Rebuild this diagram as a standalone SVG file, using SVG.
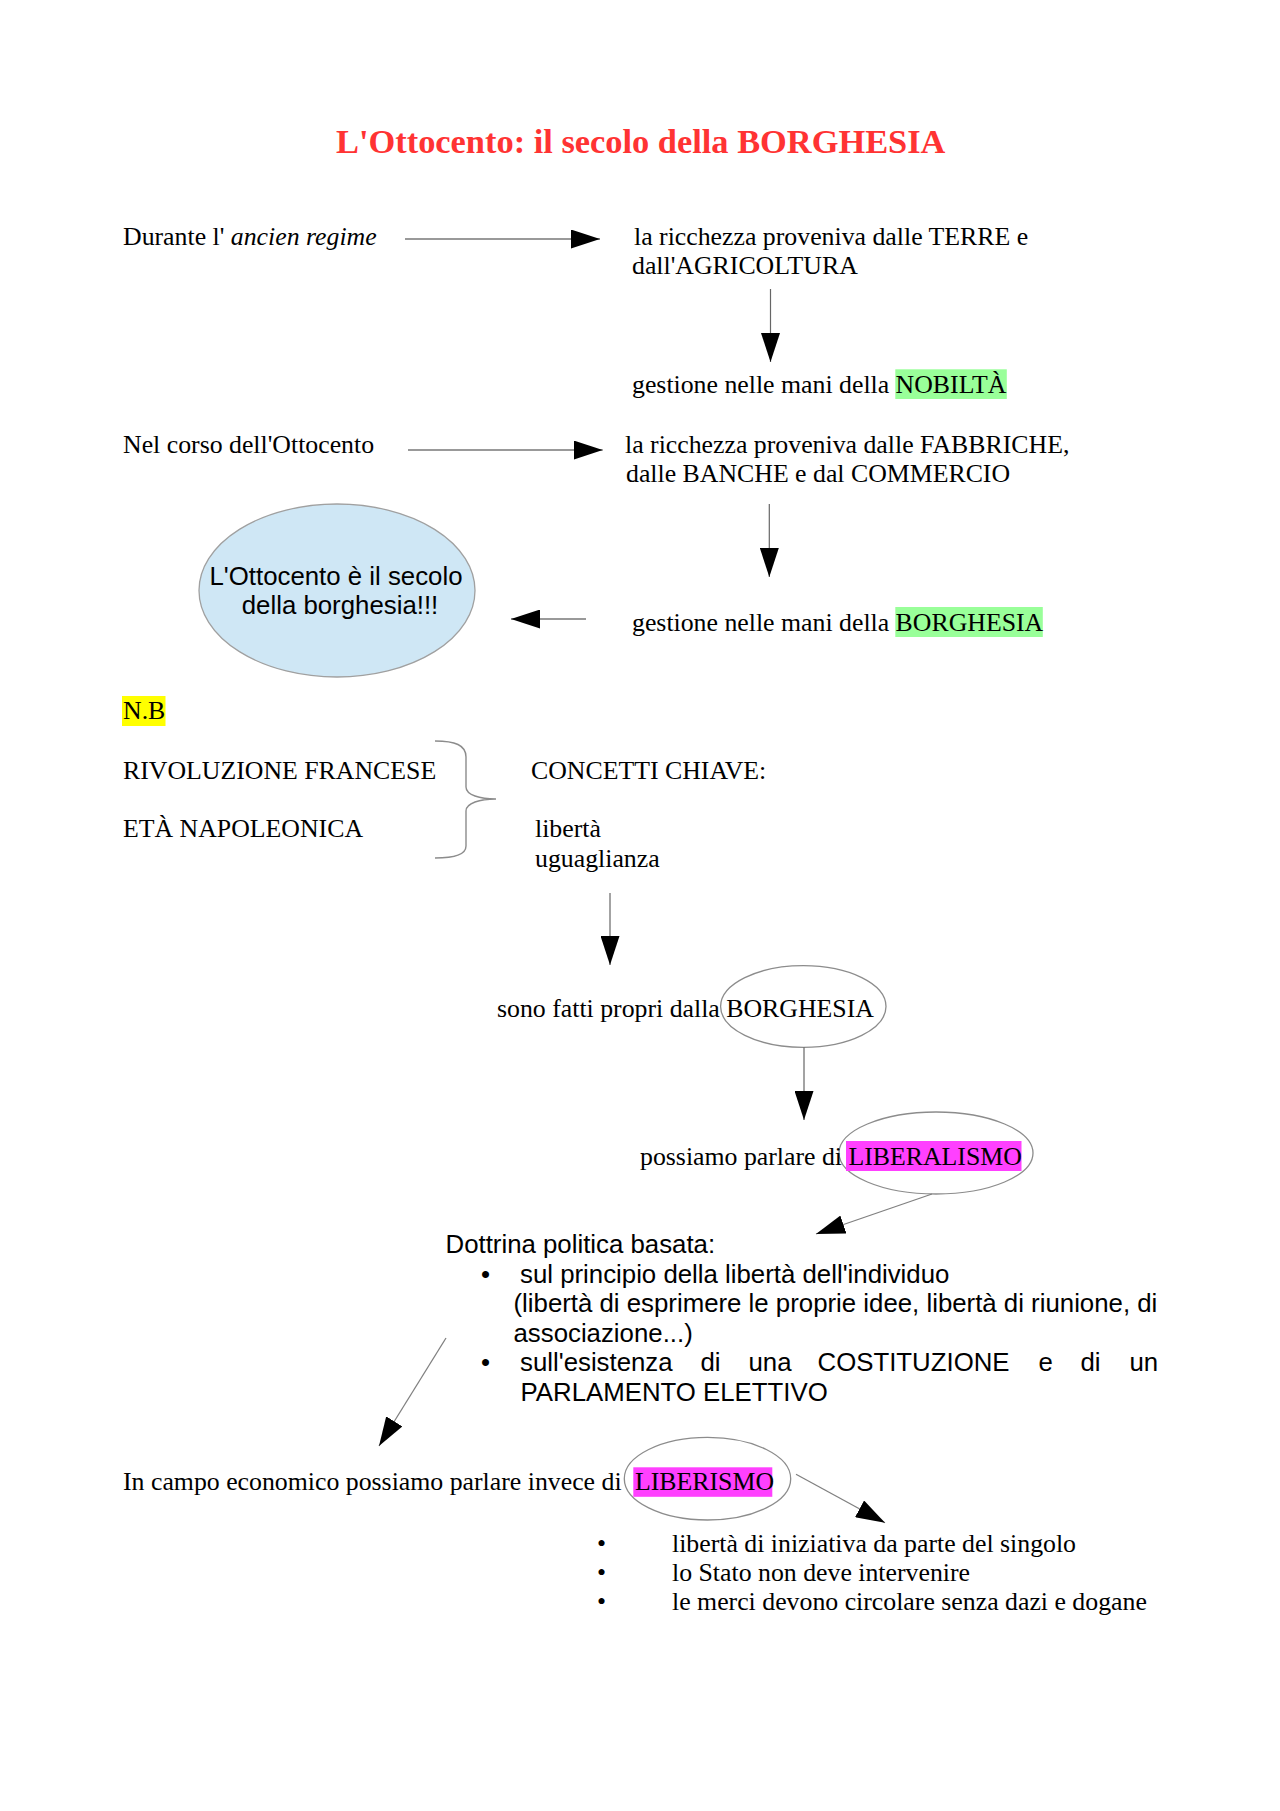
<svg xmlns="http://www.w3.org/2000/svg" width="1280" height="1811" viewBox="0 0 1280 1811">
<style>
.t{font-family:"Liberation Serif","Times New Roman",serif;font-size:25.8px;fill:#000}
.s{font-family:"Liberation Sans",Arial,sans-serif;font-size:25.8px;fill:#000}
.title{font-family:"Liberation Serif","Times New Roman",serif;font-size:34.4px;font-weight:bold;fill:#ff3333}
.hg{fill:#99ff99}
.hm{fill:#ff40ff}
.hy{fill:#ffff00}
.ring{fill:none;stroke:#8c8c8c;stroke-width:1.3}
.cg{fill:none;stroke:#999;stroke-width:2}
.cd{fill:none;stroke:#666;stroke-width:1.2}
.cdg{fill:none;stroke:#808080;stroke-width:1.3}
</style>
<defs>
<marker id="ah" viewBox="0 0 29 19" refX="29" refY="9.5" markerWidth="29" markerHeight="19" markerUnits="userSpaceOnUse" orient="auto">
<path d="M0,0 L29,9.5 L0,19 z" fill="#000"/>
</marker>
</defs>
<rect width="1280" height="1811" fill="#fff"/>

<g id="title"><text class="title" x="336" y="153">L'Ottocento: il secolo della BORGHESIA</text></g>

<g id="n-ancien"><text class="t" x="123" y="245">Durante l' <tspan font-style="italic">ancien regime</tspan></text></g>
<g id="n-terre"><text class="t" x="634" y="245">la ricchezza proveniva dalle TERRE e</text><text class="t" x="632" y="274">dall'AGRICOLTURA</text></g>
<g id="n-nobilta"><rect class="hg" x="895.3" y="369.3" width="111.5" height="29.7"/><text class="t" x="632" y="392.5">gestione nelle mani della NOBILTÀ</text></g>

<g id="n-ottocento"><text class="t" x="123" y="453">Nel corso dell'Ottocento</text></g>
<g id="n-fabbriche"><text class="t" x="625" y="453">la ricchezza proveniva dalle FABBRICHE,</text><text class="t" x="626" y="482">dalle BANCHE e dal COMMERCIO</text></g>
<g id="n-borghesia"><rect class="hg" x="895.3" y="607" width="147.5" height="30"/><text class="t" x="632" y="630.5">gestione nelle mani della BORGHESIA</text></g>

<g id="n-secolo"><ellipse cx="337" cy="590.5" rx="138" ry="86.5" fill="#cfe7f5" stroke="#a0a0a0" stroke-width="1.3"/><text class="s" x="336" y="585" text-anchor="middle">L'Ottocento è il secolo</text><text class="s" x="340" y="614" text-anchor="middle">della borghesia!!!</text></g>

<g id="n-nb"><rect class="hy" x="122" y="696" width="43.5" height="30"/><text class="t" x="123" y="719">N.B</text></g>
<g id="n-eventi"><text class="t" x="123" y="779">RIVOLUZIONE FRANCESE</text><text class="t" x="123" y="837">ETÀ NAPOLEONICA</text>
<path d="M435,741 C455,741 466,745 466,757 L466,787 C466,795 480,799 496,799 C480,799 466,803 466,811 L466,846 C466,854 455,858 435,858" fill="none" stroke="#8c8c8c" stroke-width="1.4"/></g>
<g id="n-concetti"><text class="t" x="531" y="779">CONCETTI CHIAVE:</text><text class="t" x="535" y="837">libertà</text><text class="t" x="535" y="867">uguaglianza</text></g>

<g id="n-fatti"><ellipse class="ring" cx="803.3" cy="1006.5" rx="82.7" ry="40.8"/><text class="t" x="497" y="1016.7">sono fatti propri dalla BORGHESIA</text></g>
<g id="n-liberalismo"><ellipse class="ring" cx="936" cy="1153" rx="97" ry="41"/><rect class="hm" x="846" y="1141" width="175.5" height="30"/><text class="t" x="640" y="1164.5">possiamo parlare di LIBERALISMO</text></g>

<g id="n-dottrina">
<text class="s" x="445.5" y="1253">Dottrina politica basata:</text>
<text class="s" x="481" y="1283">•</text>
<text class="s" x="520" y="1283">sul principio della libertà dell'individuo</text>
<text class="s" x="513.5" y="1312">(libertà di esprimere le proprie idee, libertà di riunione, di</text>
<text class="s" x="513.5" y="1342">associazione...)</text>
<text class="s" x="481" y="1371">•</text>
<text class="s" y="1371"><tspan x="520">sull'esistenza</tspan><tspan x="700.5">di</tspan><tspan x="748.5">una</tspan><tspan x="817.5">COSTITUZIONE</tspan><tspan x="1038.5">e</tspan><tspan x="1080.5">di</tspan><tspan x="1129.5">un</tspan></text>
<text class="s" x="520.5" y="1401">PARLAMENTO ELETTIVO</text>
</g>

<g id="n-liberismo"><ellipse class="ring" cx="707.5" cy="1478.7" rx="83.2" ry="41.3"/><rect class="hm" x="633.3" y="1467.3" width="139" height="29.5"/><text class="t" x="123" y="1490">In campo economico possiamo parlare invece di</text><text class="t" x="635" y="1490">LIBERISMO</text></g>

<g id="n-elenco">
<text class="t" x="597" y="1551.5">•</text><text class="t" x="672" y="1551.5">libertà di iniziativa da parte del singolo</text>
<text class="t" x="597" y="1580.8">•</text><text class="t" x="672" y="1580.8">lo Stato non deve intervenire</text>
<text class="t" x="597" y="1610">•</text><text class="t" x="672" y="1610">le merci devono circolare senza dazi e dogane</text>
</g>

<g id="connectors">
<line class="cg" x1="405" y1="239" x2="600" y2="239" marker-end="url(#ah)"/>
<line class="cd" x1="770.5" y1="289" x2="770.5" y2="362" marker-end="url(#ah)"/>
<line class="cg" x1="408" y1="450" x2="602.7" y2="450" marker-end="url(#ah)"/>
<line class="cd" x1="769.3" y1="504" x2="769.3" y2="577" marker-end="url(#ah)"/>
<line class="cg" x1="586" y1="619" x2="511" y2="619" marker-end="url(#ah)"/>
<line class="cd" x1="610" y1="893" x2="610" y2="965" marker-end="url(#ah)"/>
<line class="cd" x1="804" y1="1047.3" x2="804" y2="1120" marker-end="url(#ah)"/>
<line class="cdg" x1="932" y1="1194" x2="816" y2="1234" marker-end="url(#ah)"/>
<line class="cdg" x1="446" y1="1338" x2="379" y2="1446" marker-end="url(#ah)"/>
<line class="cdg" x1="796" y1="1474.3" x2="885" y2="1522.7" marker-end="url(#ah)"/>
</g>
</svg>
